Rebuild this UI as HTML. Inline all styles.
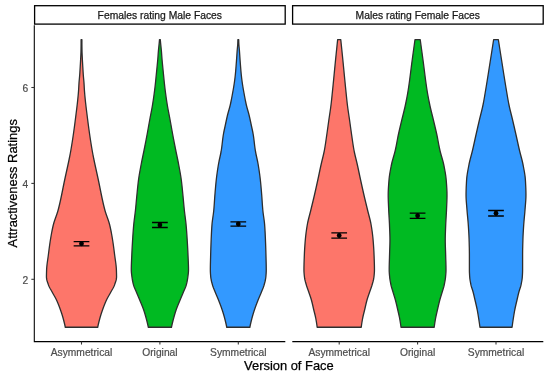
<!DOCTYPE html>
<html><head><meta charset="utf-8"><style>
html,body{margin:0;padding:0;background:#fff;}
svg{display:block;}
text{font-family:"Liberation Sans",Arial,sans-serif;}
.ax{font-size:10.25px;fill:#4D4D4D;stroke:#4D4D4D;stroke-width:0.2px;}
.st{font-size:10.32px;fill:#1A1A1A;stroke:#1A1A1A;stroke-width:0.25px;}
.ti{font-size:12.9px;fill:#000;stroke:#000;stroke-width:0.25px;}
</style></head><body>
<svg width="550" height="375" viewBox="0 0 550 375">
<rect width="550" height="375" fill="#fff"/>
<path d="M81.90,39.55 L81.90,40.00 L81.90,41.00 L81.90,42.00 L81.90,43.00 L81.90,44.00 L81.91,45.00 L81.92,46.00 L81.93,47.00 L81.95,48.00 L81.96,49.00 L81.98,50.00 L82.00,51.00 L82.02,52.00 L82.06,53.00 L82.10,54.00 L82.15,55.00 L82.20,56.00 L82.25,57.00 L82.30,58.00 L82.35,59.00 L82.40,60.00 L82.45,61.00 L82.51,62.00 L82.57,63.00 L82.62,64.00 L82.68,65.00 L82.74,66.00 L82.80,67.00 L82.86,68.00 L82.92,69.00 L82.98,70.00 L83.04,71.00 L83.10,72.00 L83.16,73.00 L83.23,74.00 L83.30,75.00 L83.38,76.00 L83.47,77.00 L83.56,78.00 L83.65,79.00 L83.75,80.00 L83.84,81.00 L83.93,82.00 L84.00,83.00 L84.06,84.00 L84.12,85.00 L84.17,86.00 L84.22,87.00 L84.28,88.00 L84.33,89.00 L84.40,90.00 L84.47,91.00 L84.55,92.00 L84.63,93.00 L84.71,94.00 L84.80,95.00 L84.89,96.00 L84.99,97.00 L85.09,98.00 L85.19,99.00 L85.29,100.00 L85.40,101.00 L85.50,102.00 L85.62,103.00 L85.73,104.00 L85.84,105.00 L85.96,106.00 L86.08,107.00 L86.20,108.00 L86.32,109.00 L86.44,110.00 L86.57,111.00 L86.69,112.00 L86.82,113.00 L86.94,114.00 L87.07,115.00 L87.19,116.00 L87.32,117.00 L87.45,118.00 L87.57,119.00 L87.70,120.00 L87.83,121.00 L87.95,122.00 L88.08,123.00 L88.21,124.00 L88.34,125.00 L88.48,126.00 L88.61,127.00 L88.74,128.00 L88.88,129.00 L89.02,130.00 L89.16,131.00 L89.30,132.00 L89.44,133.00 L89.58,134.00 L89.73,135.00 L89.87,136.00 L90.02,137.00 L90.17,138.00 L90.32,139.00 L90.47,140.00 L90.63,141.00 L90.78,142.00 L90.94,143.00 L91.10,144.00 L91.26,145.00 L91.43,146.00 L91.59,147.00 L91.76,148.00 L91.93,149.00 L92.10,150.00 L92.27,151.00 L92.45,152.00 L92.64,153.00 L92.82,154.00 L93.01,155.00 L93.21,156.00 L93.40,157.00 L93.60,158.00 L93.81,159.00 L94.01,160.00 L94.22,161.00 L94.43,162.00 L94.64,163.00 L94.86,164.00 L95.07,165.00 L95.29,166.00 L95.51,167.00 L95.73,168.00 L95.95,169.00 L96.17,170.00 L96.39,171.00 L96.61,172.00 L96.83,173.00 L97.05,174.00 L97.27,175.00 L97.49,176.00 L97.71,177.00 L97.92,178.00 L98.14,179.00 L98.35,180.00 L98.56,181.00 L98.77,182.00 L98.98,183.00 L99.18,184.00 L99.38,185.00 L99.59,186.00 L99.79,187.00 L99.99,188.00 L100.19,189.00 L100.39,190.00 L100.59,191.00 L100.79,192.00 L100.99,193.00 L101.20,194.00 L101.40,195.00 L101.61,196.00 L101.82,197.00 L102.03,198.00 L102.24,199.00 L102.46,200.00 L102.68,201.00 L102.90,202.00 L103.13,203.00 L103.36,204.00 L103.59,205.00 L103.84,206.00 L104.08,207.00 L104.33,208.00 L104.59,209.00 L104.85,210.00 L105.13,211.00 L105.43,212.00 L105.75,213.00 L106.08,214.00 L106.43,215.00 L106.78,216.00 L107.14,217.00 L107.50,218.00 L107.85,219.00 L108.20,220.00 L108.54,221.00 L108.86,222.00 L109.16,223.00 L109.44,224.00 L109.70,225.00 L109.94,226.00 L110.17,227.00 L110.39,228.00 L110.60,229.00 L110.81,230.00 L111.01,231.00 L111.21,232.00 L111.40,233.00 L111.58,234.00 L111.76,235.00 L111.94,236.00 L112.11,237.00 L112.27,238.00 L112.44,239.00 L112.60,240.00 L112.76,241.00 L112.91,242.00 L113.06,243.00 L113.21,244.00 L113.35,245.00 L113.49,246.00 L113.62,247.00 L113.76,248.00 L113.89,249.00 L114.02,250.00 L114.14,251.00 L114.27,252.00 L114.40,253.00 L114.52,254.00 L114.65,255.00 L114.78,256.00 L114.92,257.00 L115.06,258.00 L115.20,259.00 L115.35,260.00 L115.49,261.00 L115.63,262.00 L115.77,263.00 L115.89,264.00 L116.01,265.00 L116.12,266.00 L116.21,267.00 L116.29,268.00 L116.36,269.00 L116.40,270.00 L116.43,271.00 L116.46,272.00 L116.49,273.00 L116.52,274.00 L116.53,275.00 L116.55,276.00 L116.55,277.00 L116.50,278.00 L116.36,279.00 L116.14,280.00 L115.87,281.00 L115.55,282.00 L115.21,283.00 L114.85,284.00 L114.50,285.00 L114.11,286.00 L113.65,287.00 L113.13,288.00 L112.58,289.00 L112.00,290.00 L111.43,291.00 L110.87,292.00 L110.33,293.00 L109.77,294.00 L109.20,295.00 L108.62,296.00 L108.06,297.00 L107.51,298.00 L106.99,299.00 L106.50,300.00 L106.04,301.00 L105.60,302.00 L105.18,303.00 L104.76,304.00 L104.36,305.00 L103.97,306.00 L103.59,307.00 L103.22,308.00 L102.86,309.00 L102.50,310.00 L102.15,311.00 L101.81,312.00 L101.47,313.00 L101.15,314.00 L100.83,315.00 L100.53,316.00 L100.23,317.00 L99.95,318.00 L99.68,319.00 L99.41,320.00 L99.15,321.00 L98.89,322.00 L98.65,323.00 L98.41,324.00 L98.18,325.00 L97.96,326.00 L97.75,327.00 L97.70,327.25 L65.30,327.25 L65.25,327.00 L65.04,326.00 L64.82,325.00 L64.59,324.00 L64.35,323.00 L64.11,322.00 L63.85,321.00 L63.59,320.00 L63.32,319.00 L63.05,318.00 L62.77,317.00 L62.47,316.00 L62.17,315.00 L61.85,314.00 L61.53,313.00 L61.19,312.00 L60.85,311.00 L60.50,310.00 L60.14,309.00 L59.78,308.00 L59.41,307.00 L59.03,306.00 L58.64,305.00 L58.24,304.00 L57.82,303.00 L57.40,302.00 L56.96,301.00 L56.50,300.00 L56.01,299.00 L55.49,298.00 L54.94,297.00 L54.38,296.00 L53.80,295.00 L53.23,294.00 L52.67,293.00 L52.13,292.00 L51.57,291.00 L51.00,290.00 L50.42,289.00 L49.87,288.00 L49.35,287.00 L48.89,286.00 L48.50,285.00 L48.15,284.00 L47.79,283.00 L47.45,282.00 L47.13,281.00 L46.86,280.00 L46.64,279.00 L46.50,278.00 L46.45,277.00 L46.45,276.00 L46.47,275.00 L46.48,274.00 L46.51,273.00 L46.54,272.00 L46.57,271.00 L46.60,270.00 L46.64,269.00 L46.71,268.00 L46.79,267.00 L46.88,266.00 L46.99,265.00 L47.11,264.00 L47.23,263.00 L47.37,262.00 L47.51,261.00 L47.65,260.00 L47.80,259.00 L47.94,258.00 L48.08,257.00 L48.22,256.00 L48.35,255.00 L48.48,254.00 L48.60,253.00 L48.73,252.00 L48.86,251.00 L48.98,250.00 L49.11,249.00 L49.24,248.00 L49.38,247.00 L49.51,246.00 L49.65,245.00 L49.79,244.00 L49.94,243.00 L50.09,242.00 L50.24,241.00 L50.40,240.00 L50.56,239.00 L50.73,238.00 L50.89,237.00 L51.06,236.00 L51.24,235.00 L51.42,234.00 L51.60,233.00 L51.79,232.00 L51.99,231.00 L52.19,230.00 L52.40,229.00 L52.61,228.00 L52.83,227.00 L53.06,226.00 L53.30,225.00 L53.56,224.00 L53.84,223.00 L54.14,222.00 L54.46,221.00 L54.80,220.00 L55.15,219.00 L55.50,218.00 L55.86,217.00 L56.22,216.00 L56.57,215.00 L56.92,214.00 L57.25,213.00 L57.57,212.00 L57.87,211.00 L58.15,210.00 L58.41,209.00 L58.67,208.00 L58.92,207.00 L59.16,206.00 L59.41,205.00 L59.64,204.00 L59.87,203.00 L60.10,202.00 L60.32,201.00 L60.54,200.00 L60.76,199.00 L60.97,198.00 L61.18,197.00 L61.39,196.00 L61.60,195.00 L61.80,194.00 L62.01,193.00 L62.21,192.00 L62.41,191.00 L62.61,190.00 L62.81,189.00 L63.01,188.00 L63.21,187.00 L63.41,186.00 L63.62,185.00 L63.82,184.00 L64.02,183.00 L64.23,182.00 L64.44,181.00 L64.65,180.00 L64.86,179.00 L65.08,178.00 L65.29,177.00 L65.51,176.00 L65.73,175.00 L65.95,174.00 L66.17,173.00 L66.39,172.00 L66.61,171.00 L66.83,170.00 L67.05,169.00 L67.27,168.00 L67.49,167.00 L67.71,166.00 L67.93,165.00 L68.14,164.00 L68.36,163.00 L68.57,162.00 L68.78,161.00 L68.99,160.00 L69.19,159.00 L69.40,158.00 L69.60,157.00 L69.79,156.00 L69.99,155.00 L70.18,154.00 L70.36,153.00 L70.55,152.00 L70.73,151.00 L70.90,150.00 L71.07,149.00 L71.24,148.00 L71.41,147.00 L71.57,146.00 L71.74,145.00 L71.90,144.00 L72.06,143.00 L72.22,142.00 L72.37,141.00 L72.53,140.00 L72.68,139.00 L72.83,138.00 L72.98,137.00 L73.13,136.00 L73.27,135.00 L73.42,134.00 L73.56,133.00 L73.70,132.00 L73.84,131.00 L73.98,130.00 L74.12,129.00 L74.26,128.00 L74.39,127.00 L74.52,126.00 L74.66,125.00 L74.79,124.00 L74.92,123.00 L75.05,122.00 L75.17,121.00 L75.30,120.00 L75.43,119.00 L75.55,118.00 L75.68,117.00 L75.81,116.00 L75.93,115.00 L76.06,114.00 L76.18,113.00 L76.31,112.00 L76.43,111.00 L76.56,110.00 L76.68,109.00 L76.80,108.00 L76.92,107.00 L77.04,106.00 L77.16,105.00 L77.27,104.00 L77.38,103.00 L77.50,102.00 L77.60,101.00 L77.71,100.00 L77.81,99.00 L77.91,98.00 L78.01,97.00 L78.11,96.00 L78.20,95.00 L78.29,94.00 L78.37,93.00 L78.45,92.00 L78.53,91.00 L78.60,90.00 L78.67,89.00 L78.72,88.00 L78.78,87.00 L78.83,86.00 L78.88,85.00 L78.94,84.00 L79.00,83.00 L79.07,82.00 L79.16,81.00 L79.25,80.00 L79.35,79.00 L79.44,78.00 L79.53,77.00 L79.62,76.00 L79.70,75.00 L79.77,74.00 L79.84,73.00 L79.90,72.00 L79.96,71.00 L80.02,70.00 L80.08,69.00 L80.14,68.00 L80.20,67.00 L80.26,66.00 L80.32,65.00 L80.38,64.00 L80.43,63.00 L80.49,62.00 L80.55,61.00 L80.60,60.00 L80.65,59.00 L80.70,58.00 L80.75,57.00 L80.80,56.00 L80.85,55.00 L80.90,54.00 L80.94,53.00 L80.98,52.00 L81.00,51.00 L81.02,50.00 L81.04,49.00 L81.05,48.00 L81.07,47.00 L81.08,46.00 L81.09,45.00 L81.10,44.00 L81.10,43.00 L81.10,42.00 L81.10,41.00 L81.10,40.00 L81.10,39.55Z" fill="#FD766A" stroke="#2E2E2E" stroke-width="1.3" stroke-linejoin="round"/>
<path d="M160.30,39.55 L160.34,40.00 L160.42,41.00 L160.51,42.00 L160.60,43.00 L160.70,44.00 L160.80,45.00 L160.90,46.00 L161.01,47.00 L161.11,48.00 L161.21,49.00 L161.31,50.00 L161.40,51.00 L161.48,52.00 L161.56,53.00 L161.63,54.00 L161.70,55.00 L161.77,56.00 L161.84,57.00 L161.92,58.00 L162.00,59.00 L162.09,60.00 L162.17,61.00 L162.27,62.00 L162.36,63.00 L162.46,64.00 L162.56,65.00 L162.65,66.00 L162.75,67.00 L162.85,68.00 L162.95,69.00 L163.05,70.00 L163.15,71.00 L163.25,72.00 L163.35,73.00 L163.45,74.00 L163.55,75.00 L163.65,76.00 L163.75,77.00 L163.85,78.00 L163.94,79.00 L164.04,80.00 L164.14,81.00 L164.24,82.00 L164.35,83.00 L164.46,84.00 L164.57,85.00 L164.68,86.00 L164.79,87.00 L164.91,88.00 L165.03,89.00 L165.15,90.00 L165.28,91.00 L165.41,92.00 L165.54,93.00 L165.67,94.00 L165.81,95.00 L165.94,96.00 L166.08,97.00 L166.23,98.00 L166.37,99.00 L166.52,100.00 L166.67,101.00 L166.83,102.00 L166.98,103.00 L167.14,104.00 L167.30,105.00 L167.47,106.00 L167.64,107.00 L167.81,108.00 L168.00,109.00 L168.18,110.00 L168.37,111.00 L168.56,112.00 L168.76,113.00 L168.95,114.00 L169.15,115.00 L169.34,116.00 L169.53,117.00 L169.73,118.00 L169.91,119.00 L170.10,120.00 L170.28,121.00 L170.46,122.00 L170.64,123.00 L170.82,124.00 L171.00,125.00 L171.18,126.00 L171.36,127.00 L171.53,128.00 L171.71,129.00 L171.89,130.00 L172.07,131.00 L172.25,132.00 L172.43,133.00 L172.61,134.00 L172.80,135.00 L172.99,136.00 L173.18,137.00 L173.36,138.00 L173.55,139.00 L173.75,140.00 L173.94,141.00 L174.13,142.00 L174.32,143.00 L174.52,144.00 L174.71,145.00 L174.91,146.00 L175.11,147.00 L175.30,148.00 L175.50,149.00 L175.70,150.00 L175.90,151.00 L176.10,152.00 L176.31,153.00 L176.52,154.00 L176.73,155.00 L176.94,156.00 L177.14,157.00 L177.35,158.00 L177.56,159.00 L177.77,160.00 L177.97,161.00 L178.17,162.00 L178.37,163.00 L178.56,164.00 L178.75,165.00 L178.94,166.00 L179.12,167.00 L179.31,168.00 L179.49,169.00 L179.68,170.00 L179.86,171.00 L180.04,172.00 L180.21,173.00 L180.39,174.00 L180.55,175.00 L180.72,176.00 L180.87,177.00 L181.02,178.00 L181.16,179.00 L181.30,180.00 L181.43,181.00 L181.55,182.00 L181.67,183.00 L181.78,184.00 L181.89,185.00 L182.00,186.00 L182.11,187.00 L182.21,188.00 L182.31,189.00 L182.41,190.00 L182.51,191.00 L182.60,192.00 L182.70,193.00 L182.80,194.00 L182.90,195.00 L183.00,196.00 L183.10,197.00 L183.19,198.00 L183.28,199.00 L183.38,200.00 L183.47,201.00 L183.56,202.00 L183.65,203.00 L183.74,204.00 L183.83,205.00 L183.93,206.00 L184.02,207.00 L184.12,208.00 L184.22,209.00 L184.32,210.00 L184.43,211.00 L184.55,212.00 L184.67,213.00 L184.79,214.00 L184.92,215.00 L185.05,216.00 L185.18,217.00 L185.30,218.00 L185.43,219.00 L185.56,220.00 L185.68,221.00 L185.79,222.00 L185.90,223.00 L186.01,224.00 L186.10,225.00 L186.19,226.00 L186.28,227.00 L186.36,228.00 L186.44,229.00 L186.52,230.00 L186.59,231.00 L186.67,232.00 L186.74,233.00 L186.81,234.00 L186.88,235.00 L186.95,236.00 L187.01,237.00 L187.07,238.00 L187.14,239.00 L187.20,240.00 L187.26,241.00 L187.32,242.00 L187.38,243.00 L187.44,244.00 L187.50,245.00 L187.56,246.00 L187.61,247.00 L187.67,248.00 L187.72,249.00 L187.77,250.00 L187.82,251.00 L187.87,252.00 L187.91,253.00 L187.96,254.00 L188.00,255.00 L188.04,256.00 L188.09,257.00 L188.13,258.00 L188.18,259.00 L188.22,260.00 L188.26,261.00 L188.31,262.00 L188.35,263.00 L188.38,264.00 L188.42,265.00 L188.44,266.00 L188.47,267.00 L188.49,268.00 L188.50,269.00 L188.50,270.00 L188.48,271.00 L188.42,272.00 L188.34,273.00 L188.23,274.00 L188.11,275.00 L187.98,276.00 L187.85,277.00 L187.71,278.00 L187.56,279.00 L187.39,280.00 L187.19,281.00 L186.98,282.00 L186.76,283.00 L186.51,284.00 L186.25,285.00 L185.95,286.00 L185.59,287.00 L185.19,288.00 L184.76,289.00 L184.31,290.00 L183.87,291.00 L183.45,292.00 L183.04,293.00 L182.62,294.00 L182.20,295.00 L181.78,296.00 L181.35,297.00 L180.93,298.00 L180.51,299.00 L180.10,300.00 L179.69,301.00 L179.27,302.00 L178.85,303.00 L178.43,304.00 L178.01,305.00 L177.61,306.00 L177.21,307.00 L176.82,308.00 L176.45,309.00 L176.10,310.00 L175.77,311.00 L175.44,312.00 L175.13,313.00 L174.83,314.00 L174.54,315.00 L174.25,316.00 L173.97,317.00 L173.70,318.00 L173.43,319.00 L173.17,320.00 L172.91,321.00 L172.66,322.00 L172.42,323.00 L172.18,324.00 L171.95,325.00 L171.72,326.00 L171.50,327.00 L171.45,327.25 L148.35,327.25 L148.30,327.00 L148.08,326.00 L147.85,325.00 L147.62,324.00 L147.38,323.00 L147.14,322.00 L146.89,321.00 L146.63,320.00 L146.37,319.00 L146.10,318.00 L145.83,317.00 L145.55,316.00 L145.26,315.00 L144.97,314.00 L144.67,313.00 L144.36,312.00 L144.03,311.00 L143.70,310.00 L143.35,309.00 L142.98,308.00 L142.59,307.00 L142.19,306.00 L141.79,305.00 L141.37,304.00 L140.95,303.00 L140.53,302.00 L140.11,301.00 L139.70,300.00 L139.29,299.00 L138.87,298.00 L138.45,297.00 L138.02,296.00 L137.60,295.00 L137.18,294.00 L136.76,293.00 L136.35,292.00 L135.93,291.00 L135.49,290.00 L135.04,289.00 L134.61,288.00 L134.21,287.00 L133.85,286.00 L133.55,285.00 L133.29,284.00 L133.04,283.00 L132.82,282.00 L132.61,281.00 L132.41,280.00 L132.24,279.00 L132.09,278.00 L131.95,277.00 L131.82,276.00 L131.69,275.00 L131.57,274.00 L131.46,273.00 L131.38,272.00 L131.32,271.00 L131.30,270.00 L131.30,269.00 L131.31,268.00 L131.33,267.00 L131.36,266.00 L131.38,265.00 L131.42,264.00 L131.45,263.00 L131.49,262.00 L131.54,261.00 L131.58,260.00 L131.62,259.00 L131.67,258.00 L131.71,257.00 L131.76,256.00 L131.80,255.00 L131.84,254.00 L131.89,253.00 L131.93,252.00 L131.98,251.00 L132.03,250.00 L132.08,249.00 L132.13,248.00 L132.19,247.00 L132.24,246.00 L132.30,245.00 L132.36,244.00 L132.42,243.00 L132.48,242.00 L132.54,241.00 L132.60,240.00 L132.66,239.00 L132.73,238.00 L132.79,237.00 L132.85,236.00 L132.92,235.00 L132.99,234.00 L133.06,233.00 L133.13,232.00 L133.21,231.00 L133.28,230.00 L133.36,229.00 L133.44,228.00 L133.52,227.00 L133.61,226.00 L133.70,225.00 L133.79,224.00 L133.90,223.00 L134.01,222.00 L134.12,221.00 L134.24,220.00 L134.37,219.00 L134.50,218.00 L134.62,217.00 L134.75,216.00 L134.88,215.00 L135.01,214.00 L135.13,213.00 L135.25,212.00 L135.37,211.00 L135.48,210.00 L135.58,209.00 L135.68,208.00 L135.78,207.00 L135.87,206.00 L135.97,205.00 L136.06,204.00 L136.15,203.00 L136.24,202.00 L136.33,201.00 L136.42,200.00 L136.52,199.00 L136.61,198.00 L136.70,197.00 L136.80,196.00 L136.90,195.00 L137.00,194.00 L137.10,193.00 L137.20,192.00 L137.29,191.00 L137.39,190.00 L137.49,189.00 L137.59,188.00 L137.69,187.00 L137.80,186.00 L137.91,185.00 L138.02,184.00 L138.13,183.00 L138.25,182.00 L138.37,181.00 L138.50,180.00 L138.64,179.00 L138.78,178.00 L138.93,177.00 L139.08,176.00 L139.25,175.00 L139.41,174.00 L139.59,173.00 L139.76,172.00 L139.94,171.00 L140.12,170.00 L140.31,169.00 L140.49,168.00 L140.68,167.00 L140.86,166.00 L141.05,165.00 L141.24,164.00 L141.43,163.00 L141.63,162.00 L141.83,161.00 L142.03,160.00 L142.24,159.00 L142.45,158.00 L142.66,157.00 L142.86,156.00 L143.07,155.00 L143.28,154.00 L143.49,153.00 L143.70,152.00 L143.90,151.00 L144.10,150.00 L144.30,149.00 L144.50,148.00 L144.69,147.00 L144.89,146.00 L145.09,145.00 L145.28,144.00 L145.48,143.00 L145.67,142.00 L145.86,141.00 L146.05,140.00 L146.25,139.00 L146.44,138.00 L146.62,137.00 L146.81,136.00 L147.00,135.00 L147.19,134.00 L147.37,133.00 L147.55,132.00 L147.73,131.00 L147.91,130.00 L148.09,129.00 L148.27,128.00 L148.44,127.00 L148.62,126.00 L148.80,125.00 L148.98,124.00 L149.16,123.00 L149.34,122.00 L149.52,121.00 L149.70,120.00 L149.89,119.00 L150.07,118.00 L150.27,117.00 L150.46,116.00 L150.65,115.00 L150.85,114.00 L151.04,113.00 L151.24,112.00 L151.43,111.00 L151.62,110.00 L151.80,109.00 L151.99,108.00 L152.16,107.00 L152.33,106.00 L152.50,105.00 L152.66,104.00 L152.82,103.00 L152.97,102.00 L153.13,101.00 L153.28,100.00 L153.43,99.00 L153.57,98.00 L153.72,97.00 L153.86,96.00 L153.99,95.00 L154.13,94.00 L154.26,93.00 L154.39,92.00 L154.52,91.00 L154.65,90.00 L154.77,89.00 L154.89,88.00 L155.01,87.00 L155.12,86.00 L155.23,85.00 L155.34,84.00 L155.45,83.00 L155.56,82.00 L155.66,81.00 L155.76,80.00 L155.86,79.00 L155.95,78.00 L156.05,77.00 L156.15,76.00 L156.25,75.00 L156.35,74.00 L156.45,73.00 L156.55,72.00 L156.65,71.00 L156.75,70.00 L156.85,69.00 L156.95,68.00 L157.05,67.00 L157.15,66.00 L157.24,65.00 L157.34,64.00 L157.44,63.00 L157.53,62.00 L157.63,61.00 L157.71,60.00 L157.80,59.00 L157.88,58.00 L157.96,57.00 L158.03,56.00 L158.10,55.00 L158.17,54.00 L158.24,53.00 L158.32,52.00 L158.40,51.00 L158.49,50.00 L158.59,49.00 L158.69,48.00 L158.79,47.00 L158.90,46.00 L159.00,45.00 L159.10,44.00 L159.20,43.00 L159.29,42.00 L159.38,41.00 L159.46,40.00 L159.50,39.55Z" fill="#00BA22" stroke="#2E2E2E" stroke-width="1.3" stroke-linejoin="round"/>
<path d="M238.70,39.55 L238.71,40.00 L238.73,41.00 L238.76,42.00 L238.80,43.00 L238.85,44.00 L238.92,45.00 L239.00,46.00 L239.09,47.00 L239.19,48.00 L239.28,49.00 L239.37,50.00 L239.45,51.00 L239.52,52.00 L239.59,53.00 L239.66,54.00 L239.73,55.00 L239.79,56.00 L239.86,57.00 L239.93,58.00 L240.00,59.00 L240.07,60.00 L240.14,61.00 L240.22,62.00 L240.29,63.00 L240.37,64.00 L240.44,65.00 L240.52,66.00 L240.60,67.00 L240.68,68.00 L240.76,69.00 L240.84,70.00 L240.93,71.00 L241.01,72.00 L241.11,73.00 L241.20,74.00 L241.30,75.00 L241.41,76.00 L241.52,77.00 L241.64,78.00 L241.76,79.00 L241.89,80.00 L242.02,81.00 L242.16,82.00 L242.30,83.00 L242.45,84.00 L242.60,85.00 L242.76,86.00 L242.92,87.00 L243.09,88.00 L243.26,89.00 L243.44,90.00 L243.62,91.00 L243.80,92.00 L243.98,93.00 L244.17,94.00 L244.35,95.00 L244.53,96.00 L244.72,97.00 L244.91,98.00 L245.10,99.00 L245.29,100.00 L245.49,101.00 L245.70,102.00 L245.91,103.00 L246.12,104.00 L246.35,105.00 L246.59,106.00 L246.85,107.00 L247.12,108.00 L247.40,109.00 L247.68,110.00 L247.97,111.00 L248.26,112.00 L248.53,113.00 L248.80,114.00 L249.05,115.00 L249.29,116.00 L249.52,117.00 L249.75,118.00 L249.97,119.00 L250.19,120.00 L250.40,121.00 L250.62,122.00 L250.83,123.00 L251.04,124.00 L251.25,125.00 L251.46,126.00 L251.68,127.00 L251.90,128.00 L252.12,129.00 L252.34,130.00 L252.55,131.00 L252.75,132.00 L252.95,133.00 L253.13,134.00 L253.30,135.00 L253.46,136.00 L253.60,137.00 L253.74,138.00 L253.87,139.00 L253.99,140.00 L254.11,141.00 L254.22,142.00 L254.34,143.00 L254.46,144.00 L254.57,145.00 L254.70,146.00 L254.82,147.00 L254.96,148.00 L255.10,149.00 L255.25,150.00 L255.42,151.00 L255.59,152.00 L255.79,153.00 L255.99,154.00 L256.19,155.00 L256.41,156.00 L256.63,157.00 L256.85,158.00 L257.07,159.00 L257.28,160.00 L257.49,161.00 L257.70,162.00 L257.89,163.00 L258.08,164.00 L258.25,165.00 L258.41,166.00 L258.57,167.00 L258.73,168.00 L258.89,169.00 L259.04,170.00 L259.19,171.00 L259.33,172.00 L259.47,173.00 L259.61,174.00 L259.75,175.00 L259.87,176.00 L260.00,177.00 L260.12,178.00 L260.24,179.00 L260.35,180.00 L260.46,181.00 L260.56,182.00 L260.66,183.00 L260.76,184.00 L260.85,185.00 L260.95,186.00 L261.03,187.00 L261.12,188.00 L261.21,189.00 L261.29,190.00 L261.38,191.00 L261.46,192.00 L261.54,193.00 L261.62,194.00 L261.70,195.00 L261.78,196.00 L261.85,197.00 L261.93,198.00 L261.99,199.00 L262.06,200.00 L262.13,201.00 L262.20,202.00 L262.26,203.00 L262.33,204.00 L262.40,205.00 L262.47,206.00 L262.55,207.00 L262.63,208.00 L262.71,209.00 L262.80,210.00 L262.90,211.00 L263.01,212.00 L263.13,213.00 L263.26,214.00 L263.40,215.00 L263.54,216.00 L263.69,217.00 L263.83,218.00 L263.97,219.00 L264.11,220.00 L264.24,221.00 L264.36,222.00 L264.47,223.00 L264.57,224.00 L264.65,225.00 L264.72,226.00 L264.79,227.00 L264.86,228.00 L264.92,229.00 L264.98,230.00 L265.03,231.00 L265.09,232.00 L265.14,233.00 L265.19,234.00 L265.23,235.00 L265.28,236.00 L265.32,237.00 L265.37,238.00 L265.41,239.00 L265.45,240.00 L265.49,241.00 L265.53,242.00 L265.57,243.00 L265.61,244.00 L265.64,245.00 L265.68,246.00 L265.71,247.00 L265.75,248.00 L265.78,249.00 L265.81,250.00 L265.84,251.00 L265.87,252.00 L265.90,253.00 L265.92,254.00 L265.95,255.00 L265.98,256.00 L266.00,257.00 L266.03,258.00 L266.06,259.00 L266.08,260.00 L266.11,261.00 L266.13,262.00 L266.16,263.00 L266.18,264.00 L266.20,265.00 L266.22,266.00 L266.23,267.00 L266.24,268.00 L266.25,269.00 L266.25,270.00 L266.24,271.00 L266.21,272.00 L266.16,273.00 L266.10,274.00 L266.02,275.00 L265.94,276.00 L265.85,277.00 L265.74,278.00 L265.58,279.00 L265.39,280.00 L265.16,281.00 L264.92,282.00 L264.65,283.00 L264.38,284.00 L264.10,285.00 L263.80,286.00 L263.45,287.00 L263.08,288.00 L262.68,289.00 L262.27,290.00 L261.85,291.00 L261.45,292.00 L261.05,293.00 L260.63,294.00 L260.20,295.00 L259.77,296.00 L259.34,297.00 L258.92,298.00 L258.50,299.00 L258.10,300.00 L257.71,301.00 L257.32,302.00 L256.93,303.00 L256.55,304.00 L256.17,305.00 L255.80,306.00 L255.44,307.00 L255.08,308.00 L254.74,309.00 L254.40,310.00 L254.07,311.00 L253.75,312.00 L253.44,313.00 L253.13,314.00 L252.84,315.00 L252.55,316.00 L252.27,317.00 L252.00,318.00 L251.74,319.00 L251.49,320.00 L251.24,321.00 L251.00,322.00 L250.76,323.00 L250.53,324.00 L250.31,325.00 L250.10,326.00 L249.90,327.00 L249.85,327.25 L226.75,327.25 L226.70,327.00 L226.50,326.00 L226.29,325.00 L226.07,324.00 L225.84,323.00 L225.60,322.00 L225.36,321.00 L225.11,320.00 L224.86,319.00 L224.60,318.00 L224.33,317.00 L224.05,316.00 L223.76,315.00 L223.47,314.00 L223.16,313.00 L222.85,312.00 L222.53,311.00 L222.20,310.00 L221.86,309.00 L221.52,308.00 L221.16,307.00 L220.80,306.00 L220.43,305.00 L220.05,304.00 L219.67,303.00 L219.28,302.00 L218.89,301.00 L218.50,300.00 L218.10,299.00 L217.68,298.00 L217.26,297.00 L216.83,296.00 L216.40,295.00 L215.97,294.00 L215.55,293.00 L215.15,292.00 L214.75,291.00 L214.33,290.00 L213.92,289.00 L213.52,288.00 L213.15,287.00 L212.80,286.00 L212.50,285.00 L212.22,284.00 L211.95,283.00 L211.68,282.00 L211.44,281.00 L211.21,280.00 L211.02,279.00 L210.86,278.00 L210.75,277.00 L210.66,276.00 L210.58,275.00 L210.50,274.00 L210.44,273.00 L210.39,272.00 L210.36,271.00 L210.35,270.00 L210.35,269.00 L210.36,268.00 L210.37,267.00 L210.38,266.00 L210.40,265.00 L210.42,264.00 L210.44,263.00 L210.47,262.00 L210.49,261.00 L210.52,260.00 L210.54,259.00 L210.57,258.00 L210.60,257.00 L210.62,256.00 L210.65,255.00 L210.68,254.00 L210.70,253.00 L210.73,252.00 L210.76,251.00 L210.79,250.00 L210.82,249.00 L210.85,248.00 L210.89,247.00 L210.92,246.00 L210.96,245.00 L210.99,244.00 L211.03,243.00 L211.07,242.00 L211.11,241.00 L211.15,240.00 L211.19,239.00 L211.23,238.00 L211.28,237.00 L211.32,236.00 L211.37,235.00 L211.41,234.00 L211.46,233.00 L211.51,232.00 L211.57,231.00 L211.62,230.00 L211.68,229.00 L211.74,228.00 L211.81,227.00 L211.88,226.00 L211.95,225.00 L212.03,224.00 L212.13,223.00 L212.24,222.00 L212.36,221.00 L212.49,220.00 L212.63,219.00 L212.77,218.00 L212.91,217.00 L213.06,216.00 L213.20,215.00 L213.34,214.00 L213.47,213.00 L213.59,212.00 L213.70,211.00 L213.80,210.00 L213.89,209.00 L213.97,208.00 L214.05,207.00 L214.13,206.00 L214.20,205.00 L214.27,204.00 L214.34,203.00 L214.40,202.00 L214.47,201.00 L214.54,200.00 L214.61,199.00 L214.67,198.00 L214.75,197.00 L214.82,196.00 L214.90,195.00 L214.98,194.00 L215.06,193.00 L215.14,192.00 L215.22,191.00 L215.31,190.00 L215.39,189.00 L215.48,188.00 L215.57,187.00 L215.65,186.00 L215.75,185.00 L215.84,184.00 L215.94,183.00 L216.04,182.00 L216.14,181.00 L216.25,180.00 L216.36,179.00 L216.48,178.00 L216.60,177.00 L216.73,176.00 L216.85,175.00 L216.99,174.00 L217.13,173.00 L217.27,172.00 L217.41,171.00 L217.56,170.00 L217.71,169.00 L217.87,168.00 L218.03,167.00 L218.19,166.00 L218.35,165.00 L218.52,164.00 L218.71,163.00 L218.90,162.00 L219.11,161.00 L219.32,160.00 L219.53,159.00 L219.75,158.00 L219.97,157.00 L220.19,156.00 L220.41,155.00 L220.61,154.00 L220.81,153.00 L221.01,152.00 L221.18,151.00 L221.35,150.00 L221.50,149.00 L221.64,148.00 L221.78,147.00 L221.90,146.00 L222.03,145.00 L222.14,144.00 L222.26,143.00 L222.38,142.00 L222.49,141.00 L222.61,140.00 L222.73,139.00 L222.86,138.00 L223.00,137.00 L223.14,136.00 L223.30,135.00 L223.47,134.00 L223.65,133.00 L223.85,132.00 L224.05,131.00 L224.26,130.00 L224.48,129.00 L224.70,128.00 L224.92,127.00 L225.14,126.00 L225.35,125.00 L225.56,124.00 L225.77,123.00 L225.98,122.00 L226.20,121.00 L226.41,120.00 L226.63,119.00 L226.85,118.00 L227.08,117.00 L227.31,116.00 L227.55,115.00 L227.80,114.00 L228.07,113.00 L228.34,112.00 L228.63,111.00 L228.92,110.00 L229.20,109.00 L229.48,108.00 L229.75,107.00 L230.01,106.00 L230.25,105.00 L230.48,104.00 L230.69,103.00 L230.90,102.00 L231.11,101.00 L231.31,100.00 L231.50,99.00 L231.69,98.00 L231.88,97.00 L232.07,96.00 L232.25,95.00 L232.43,94.00 L232.62,93.00 L232.80,92.00 L232.98,91.00 L233.16,90.00 L233.34,89.00 L233.51,88.00 L233.68,87.00 L233.84,86.00 L234.00,85.00 L234.15,84.00 L234.30,83.00 L234.44,82.00 L234.58,81.00 L234.71,80.00 L234.84,79.00 L234.96,78.00 L235.08,77.00 L235.19,76.00 L235.30,75.00 L235.40,74.00 L235.49,73.00 L235.59,72.00 L235.67,71.00 L235.76,70.00 L235.84,69.00 L235.92,68.00 L236.00,67.00 L236.08,66.00 L236.16,65.00 L236.23,64.00 L236.31,63.00 L236.38,62.00 L236.46,61.00 L236.53,60.00 L236.60,59.00 L236.67,58.00 L236.74,57.00 L236.81,56.00 L236.87,55.00 L236.94,54.00 L237.01,53.00 L237.08,52.00 L237.15,51.00 L237.23,50.00 L237.32,49.00 L237.41,48.00 L237.51,47.00 L237.60,46.00 L237.68,45.00 L237.75,44.00 L237.80,43.00 L237.84,42.00 L237.87,41.00 L237.89,40.00 L237.90,39.55Z" fill="#3399FF" stroke="#2E2E2E" stroke-width="1.3" stroke-linejoin="round"/>
<path d="M340.75,39.55 L340.80,40.00 L340.90,41.00 L341.01,42.00 L341.11,43.00 L341.21,44.00 L341.32,45.00 L341.42,46.00 L341.52,47.00 L341.63,48.00 L341.73,49.00 L341.83,50.00 L341.94,51.00 L342.04,52.00 L342.14,53.00 L342.24,54.00 L342.34,55.00 L342.45,56.00 L342.55,57.00 L342.65,58.00 L342.75,59.00 L342.85,60.00 L342.95,61.00 L343.05,62.00 L343.15,63.00 L343.25,64.00 L343.35,65.00 L343.44,66.00 L343.54,67.00 L343.64,68.00 L343.74,69.00 L343.83,70.00 L343.93,71.00 L344.03,72.00 L344.12,73.00 L344.22,74.00 L344.32,75.00 L344.41,76.00 L344.51,77.00 L344.61,78.00 L344.70,79.00 L344.80,80.00 L344.90,81.00 L345.00,82.00 L345.10,83.00 L345.20,84.00 L345.29,85.00 L345.39,86.00 L345.49,87.00 L345.60,88.00 L345.70,89.00 L345.80,90.00 L345.90,91.00 L346.00,92.00 L346.11,93.00 L346.21,94.00 L346.31,95.00 L346.41,96.00 L346.51,97.00 L346.62,98.00 L346.72,99.00 L346.83,100.00 L346.94,101.00 L347.05,102.00 L347.16,103.00 L347.28,104.00 L347.40,105.00 L347.53,106.00 L347.66,107.00 L347.79,108.00 L347.93,109.00 L348.07,110.00 L348.22,111.00 L348.36,112.00 L348.51,113.00 L348.66,114.00 L348.81,115.00 L348.96,116.00 L349.11,117.00 L349.26,118.00 L349.41,119.00 L349.55,120.00 L349.69,121.00 L349.83,122.00 L349.97,123.00 L350.11,124.00 L350.25,125.00 L350.38,126.00 L350.52,127.00 L350.66,128.00 L350.80,129.00 L350.94,130.00 L351.08,131.00 L351.22,132.00 L351.36,133.00 L351.50,134.00 L351.65,135.00 L351.80,136.00 L351.94,137.00 L352.08,138.00 L352.22,139.00 L352.37,140.00 L352.51,141.00 L352.66,142.00 L352.80,143.00 L352.95,144.00 L353.11,145.00 L353.27,146.00 L353.43,147.00 L353.60,148.00 L353.77,149.00 L353.95,150.00 L354.14,151.00 L354.34,152.00 L354.56,153.00 L354.78,154.00 L355.01,155.00 L355.24,156.00 L355.48,157.00 L355.73,158.00 L355.97,159.00 L356.22,160.00 L356.46,161.00 L356.70,162.00 L356.94,163.00 L357.17,164.00 L357.40,165.00 L357.62,166.00 L357.84,167.00 L358.05,168.00 L358.27,169.00 L358.48,170.00 L358.69,171.00 L358.90,172.00 L359.11,173.00 L359.32,174.00 L359.53,175.00 L359.74,176.00 L359.95,177.00 L360.17,178.00 L360.38,179.00 L360.60,180.00 L360.82,181.00 L361.04,182.00 L361.26,183.00 L361.48,184.00 L361.70,185.00 L361.92,186.00 L362.14,187.00 L362.36,188.00 L362.59,189.00 L362.81,190.00 L363.04,191.00 L363.26,192.00 L363.49,193.00 L363.72,194.00 L363.95,195.00 L364.18,196.00 L364.42,197.00 L364.65,198.00 L364.89,199.00 L365.13,200.00 L365.37,201.00 L365.61,202.00 L365.85,203.00 L366.10,204.00 L366.34,205.00 L366.58,206.00 L366.83,207.00 L367.07,208.00 L367.31,209.00 L367.55,210.00 L367.79,211.00 L368.05,212.00 L368.30,213.00 L368.57,214.00 L368.83,215.00 L369.09,216.00 L369.35,217.00 L369.61,218.00 L369.86,219.00 L370.11,220.00 L370.34,221.00 L370.57,222.00 L370.78,223.00 L370.97,224.00 L371.15,225.00 L371.32,226.00 L371.48,227.00 L371.64,228.00 L371.79,229.00 L371.94,230.00 L372.08,231.00 L372.22,232.00 L372.35,233.00 L372.47,234.00 L372.59,235.00 L372.71,236.00 L372.81,237.00 L372.92,238.00 L373.01,239.00 L373.10,240.00 L373.18,241.00 L373.27,242.00 L373.34,243.00 L373.42,244.00 L373.49,245.00 L373.56,246.00 L373.63,247.00 L373.70,248.00 L373.76,249.00 L373.81,250.00 L373.87,251.00 L373.92,252.00 L373.97,253.00 L374.01,254.00 L374.05,255.00 L374.09,256.00 L374.13,257.00 L374.16,258.00 L374.20,259.00 L374.24,260.00 L374.27,261.00 L374.30,262.00 L374.34,263.00 L374.36,264.00 L374.39,265.00 L374.41,266.00 L374.43,267.00 L374.44,268.00 L374.45,269.00 L374.45,270.00 L374.44,271.00 L374.40,272.00 L374.33,273.00 L374.25,274.00 L374.16,275.00 L374.06,276.00 L373.95,277.00 L373.82,278.00 L373.64,279.00 L373.42,280.00 L373.17,281.00 L372.91,282.00 L372.62,283.00 L372.34,284.00 L372.05,285.00 L371.75,286.00 L371.42,287.00 L371.08,288.00 L370.72,289.00 L370.35,290.00 L370.00,291.00 L369.65,292.00 L369.31,293.00 L368.96,294.00 L368.61,295.00 L368.27,296.00 L367.93,297.00 L367.60,298.00 L367.29,299.00 L367.00,300.00 L366.73,301.00 L366.47,302.00 L366.22,303.00 L365.98,304.00 L365.75,305.00 L365.52,306.00 L365.29,307.00 L365.07,308.00 L364.84,309.00 L364.60,310.00 L364.36,311.00 L364.11,312.00 L363.85,313.00 L363.60,314.00 L363.36,315.00 L363.12,316.00 L362.90,317.00 L362.70,318.00 L362.51,319.00 L362.33,320.00 L362.16,321.00 L361.99,322.00 L361.83,323.00 L361.68,324.00 L361.53,325.00 L361.40,326.00 L361.28,327.00 L361.25,327.25 L317.15,327.25 L317.12,327.00 L317.00,326.00 L316.87,325.00 L316.72,324.00 L316.57,323.00 L316.41,322.00 L316.24,321.00 L316.07,320.00 L315.89,319.00 L315.70,318.00 L315.50,317.00 L315.28,316.00 L315.04,315.00 L314.80,314.00 L314.55,313.00 L314.29,312.00 L314.04,311.00 L313.80,310.00 L313.56,309.00 L313.33,308.00 L313.11,307.00 L312.88,306.00 L312.65,305.00 L312.42,304.00 L312.18,303.00 L311.93,302.00 L311.67,301.00 L311.40,300.00 L311.11,299.00 L310.80,298.00 L310.47,297.00 L310.13,296.00 L309.79,295.00 L309.44,294.00 L309.09,293.00 L308.75,292.00 L308.40,291.00 L308.05,290.00 L307.68,289.00 L307.32,288.00 L306.98,287.00 L306.65,286.00 L306.35,285.00 L306.06,284.00 L305.78,283.00 L305.49,282.00 L305.23,281.00 L304.98,280.00 L304.76,279.00 L304.58,278.00 L304.45,277.00 L304.34,276.00 L304.24,275.00 L304.15,274.00 L304.07,273.00 L304.00,272.00 L303.96,271.00 L303.95,270.00 L303.95,269.00 L303.96,268.00 L303.97,267.00 L303.99,266.00 L304.01,265.00 L304.04,264.00 L304.06,263.00 L304.10,262.00 L304.13,261.00 L304.16,260.00 L304.20,259.00 L304.24,258.00 L304.27,257.00 L304.31,256.00 L304.35,255.00 L304.39,254.00 L304.43,253.00 L304.48,252.00 L304.53,251.00 L304.59,250.00 L304.64,249.00 L304.70,248.00 L304.77,247.00 L304.84,246.00 L304.91,245.00 L304.98,244.00 L305.06,243.00 L305.13,242.00 L305.22,241.00 L305.30,240.00 L305.39,239.00 L305.48,238.00 L305.59,237.00 L305.69,236.00 L305.81,235.00 L305.93,234.00 L306.05,233.00 L306.18,232.00 L306.32,231.00 L306.46,230.00 L306.61,229.00 L306.76,228.00 L306.92,227.00 L307.08,226.00 L307.25,225.00 L307.43,224.00 L307.62,223.00 L307.83,222.00 L308.06,221.00 L308.29,220.00 L308.54,219.00 L308.79,218.00 L309.05,217.00 L309.31,216.00 L309.57,215.00 L309.83,214.00 L310.10,213.00 L310.35,212.00 L310.61,211.00 L310.85,210.00 L311.09,209.00 L311.33,208.00 L311.57,207.00 L311.82,206.00 L312.06,205.00 L312.30,204.00 L312.55,203.00 L312.79,202.00 L313.03,201.00 L313.27,200.00 L313.51,199.00 L313.75,198.00 L313.98,197.00 L314.22,196.00 L314.45,195.00 L314.68,194.00 L314.91,193.00 L315.14,192.00 L315.36,191.00 L315.59,190.00 L315.81,189.00 L316.04,188.00 L316.26,187.00 L316.48,186.00 L316.70,185.00 L316.92,184.00 L317.14,183.00 L317.36,182.00 L317.58,181.00 L317.80,180.00 L318.02,179.00 L318.23,178.00 L318.45,177.00 L318.66,176.00 L318.87,175.00 L319.08,174.00 L319.29,173.00 L319.50,172.00 L319.71,171.00 L319.92,170.00 L320.13,169.00 L320.35,168.00 L320.56,167.00 L320.78,166.00 L321.00,165.00 L321.23,164.00 L321.46,163.00 L321.70,162.00 L321.94,161.00 L322.18,160.00 L322.43,159.00 L322.67,158.00 L322.92,157.00 L323.16,156.00 L323.39,155.00 L323.62,154.00 L323.84,153.00 L324.06,152.00 L324.26,151.00 L324.45,150.00 L324.63,149.00 L324.80,148.00 L324.97,147.00 L325.13,146.00 L325.29,145.00 L325.45,144.00 L325.60,143.00 L325.74,142.00 L325.89,141.00 L326.03,140.00 L326.18,139.00 L326.32,138.00 L326.46,137.00 L326.60,136.00 L326.75,135.00 L326.90,134.00 L327.04,133.00 L327.18,132.00 L327.32,131.00 L327.46,130.00 L327.60,129.00 L327.74,128.00 L327.88,127.00 L328.02,126.00 L328.15,125.00 L328.29,124.00 L328.43,123.00 L328.57,122.00 L328.71,121.00 L328.85,120.00 L328.99,119.00 L329.14,118.00 L329.29,117.00 L329.44,116.00 L329.59,115.00 L329.74,114.00 L329.89,113.00 L330.04,112.00 L330.18,111.00 L330.33,110.00 L330.47,109.00 L330.61,108.00 L330.74,107.00 L330.87,106.00 L331.00,105.00 L331.12,104.00 L331.24,103.00 L331.35,102.00 L331.46,101.00 L331.57,100.00 L331.68,99.00 L331.78,98.00 L331.89,97.00 L331.99,96.00 L332.09,95.00 L332.19,94.00 L332.29,93.00 L332.40,92.00 L332.50,91.00 L332.60,90.00 L332.70,89.00 L332.80,88.00 L332.91,87.00 L333.01,86.00 L333.11,85.00 L333.20,84.00 L333.30,83.00 L333.40,82.00 L333.50,81.00 L333.60,80.00 L333.70,79.00 L333.79,78.00 L333.89,77.00 L333.99,76.00 L334.08,75.00 L334.18,74.00 L334.28,73.00 L334.37,72.00 L334.47,71.00 L334.57,70.00 L334.66,69.00 L334.76,68.00 L334.86,67.00 L334.96,66.00 L335.05,65.00 L335.15,64.00 L335.25,63.00 L335.35,62.00 L335.45,61.00 L335.55,60.00 L335.65,59.00 L335.75,58.00 L335.85,57.00 L335.95,56.00 L336.06,55.00 L336.16,54.00 L336.26,53.00 L336.36,52.00 L336.46,51.00 L336.57,50.00 L336.67,49.00 L336.77,48.00 L336.88,47.00 L336.98,46.00 L337.08,45.00 L337.19,44.00 L337.29,43.00 L337.39,42.00 L337.50,41.00 L337.60,40.00 L337.65,39.55Z" fill="#FD766A" stroke="#2E2E2E" stroke-width="1.3" stroke-linejoin="round"/>
<path d="M420.20,39.55 L420.26,40.00 L420.40,41.00 L420.54,42.00 L420.68,43.00 L420.81,44.00 L420.95,45.00 L421.09,46.00 L421.23,47.00 L421.36,48.00 L421.50,49.00 L421.64,50.00 L421.78,51.00 L421.91,52.00 L422.05,53.00 L422.19,54.00 L422.32,55.00 L422.46,56.00 L422.59,57.00 L422.73,58.00 L422.86,59.00 L423.00,60.00 L423.13,61.00 L423.27,62.00 L423.40,63.00 L423.53,64.00 L423.66,65.00 L423.78,66.00 L423.91,67.00 L424.04,68.00 L424.16,69.00 L424.29,70.00 L424.41,71.00 L424.54,72.00 L424.66,73.00 L424.79,74.00 L424.91,75.00 L425.04,76.00 L425.17,77.00 L425.30,78.00 L425.43,79.00 L425.56,80.00 L425.69,81.00 L425.83,82.00 L425.97,83.00 L426.11,84.00 L426.25,85.00 L426.39,86.00 L426.54,87.00 L426.69,88.00 L426.84,89.00 L427.00,90.00 L427.16,91.00 L427.33,92.00 L427.49,93.00 L427.67,94.00 L427.84,95.00 L428.03,96.00 L428.21,97.00 L428.40,98.00 L428.59,99.00 L428.78,100.00 L428.98,101.00 L429.18,102.00 L429.39,103.00 L429.59,104.00 L429.80,105.00 L430.01,106.00 L430.24,107.00 L430.46,108.00 L430.70,109.00 L430.94,110.00 L431.18,111.00 L431.43,112.00 L431.67,113.00 L431.92,114.00 L432.17,115.00 L432.42,116.00 L432.67,117.00 L432.92,118.00 L433.16,119.00 L433.40,120.00 L433.64,121.00 L433.88,122.00 L434.12,123.00 L434.36,124.00 L434.60,125.00 L434.84,126.00 L435.07,127.00 L435.31,128.00 L435.55,129.00 L435.78,130.00 L436.01,131.00 L436.24,132.00 L436.46,133.00 L436.68,134.00 L436.90,135.00 L437.11,136.00 L437.31,137.00 L437.51,138.00 L437.70,139.00 L437.89,140.00 L438.08,141.00 L438.26,142.00 L438.45,143.00 L438.63,144.00 L438.82,145.00 L439.02,146.00 L439.21,147.00 L439.42,148.00 L439.63,149.00 L439.85,150.00 L440.08,151.00 L440.33,152.00 L440.60,153.00 L440.87,154.00 L441.15,155.00 L441.44,156.00 L441.73,157.00 L442.02,158.00 L442.30,159.00 L442.58,160.00 L442.86,161.00 L443.12,162.00 L443.36,163.00 L443.59,164.00 L443.80,165.00 L444.00,166.00 L444.20,167.00 L444.39,168.00 L444.59,169.00 L444.78,170.00 L444.96,171.00 L445.14,172.00 L445.31,173.00 L445.47,174.00 L445.62,175.00 L445.76,176.00 L445.89,177.00 L446.01,178.00 L446.11,179.00 L446.20,180.00 L446.28,181.00 L446.36,182.00 L446.44,183.00 L446.51,184.00 L446.59,185.00 L446.65,186.00 L446.72,187.00 L446.78,188.00 L446.83,189.00 L446.88,190.00 L446.92,191.00 L446.96,192.00 L446.98,193.00 L446.99,194.00 L447.00,195.00 L447.00,196.00 L446.99,197.00 L446.97,198.00 L446.94,199.00 L446.92,200.00 L446.88,201.00 L446.85,202.00 L446.81,203.00 L446.76,204.00 L446.72,205.00 L446.68,206.00 L446.63,207.00 L446.59,208.00 L446.54,209.00 L446.50,210.00 L446.46,211.00 L446.41,212.00 L446.36,213.00 L446.30,214.00 L446.24,215.00 L446.19,216.00 L446.13,217.00 L446.07,218.00 L446.01,219.00 L445.95,220.00 L445.89,221.00 L445.84,222.00 L445.79,223.00 L445.74,224.00 L445.70,225.00 L445.66,226.00 L445.62,227.00 L445.58,228.00 L445.54,229.00 L445.50,230.00 L445.46,231.00 L445.42,232.00 L445.39,233.00 L445.35,234.00 L445.32,235.00 L445.30,236.00 L445.28,237.00 L445.26,238.00 L445.25,239.00 L445.25,240.00 L445.25,241.00 L445.26,242.00 L445.28,243.00 L445.30,244.00 L445.33,245.00 L445.35,246.00 L445.39,247.00 L445.42,248.00 L445.46,249.00 L445.49,250.00 L445.53,251.00 L445.56,252.00 L445.59,253.00 L445.62,254.00 L445.65,255.00 L445.68,256.00 L445.70,257.00 L445.73,258.00 L445.76,259.00 L445.80,260.00 L445.83,261.00 L445.86,262.00 L445.89,263.00 L445.91,264.00 L445.94,265.00 L445.96,266.00 L445.98,267.00 L445.99,268.00 L446.00,269.00 L446.00,270.00 L445.99,271.00 L445.95,272.00 L445.89,273.00 L445.82,274.00 L445.73,275.00 L445.64,276.00 L445.55,277.00 L445.44,278.00 L445.32,279.00 L445.16,280.00 L445.00,281.00 L444.81,282.00 L444.62,283.00 L444.41,284.00 L444.20,285.00 L443.97,286.00 L443.71,287.00 L443.42,288.00 L443.12,289.00 L442.81,290.00 L442.50,291.00 L442.20,292.00 L441.90,293.00 L441.60,294.00 L441.29,295.00 L440.98,296.00 L440.67,297.00 L440.37,298.00 L440.08,299.00 L439.80,300.00 L439.54,301.00 L439.28,302.00 L439.03,303.00 L438.79,304.00 L438.55,305.00 L438.32,306.00 L438.09,307.00 L437.86,308.00 L437.63,309.00 L437.40,310.00 L437.17,311.00 L436.94,312.00 L436.71,313.00 L436.48,314.00 L436.26,315.00 L436.04,316.00 L435.84,317.00 L435.65,318.00 L435.47,319.00 L435.29,320.00 L435.12,321.00 L434.96,322.00 L434.80,323.00 L434.64,324.00 L434.50,325.00 L434.36,326.00 L434.23,327.00 L434.20,327.25 L401.00,327.25 L400.97,327.00 L400.84,326.00 L400.70,325.00 L400.56,324.00 L400.40,323.00 L400.24,322.00 L400.08,321.00 L399.91,320.00 L399.73,319.00 L399.55,318.00 L399.36,317.00 L399.16,316.00 L398.94,315.00 L398.72,314.00 L398.49,313.00 L398.26,312.00 L398.03,311.00 L397.80,310.00 L397.57,309.00 L397.34,308.00 L397.11,307.00 L396.88,306.00 L396.65,305.00 L396.41,304.00 L396.17,303.00 L395.92,302.00 L395.66,301.00 L395.40,300.00 L395.12,299.00 L394.83,298.00 L394.53,297.00 L394.22,296.00 L393.91,295.00 L393.60,294.00 L393.30,293.00 L393.00,292.00 L392.70,291.00 L392.39,290.00 L392.08,289.00 L391.78,288.00 L391.49,287.00 L391.23,286.00 L391.00,285.00 L390.79,284.00 L390.58,283.00 L390.39,282.00 L390.20,281.00 L390.04,280.00 L389.88,279.00 L389.76,278.00 L389.65,277.00 L389.56,276.00 L389.47,275.00 L389.38,274.00 L389.31,273.00 L389.25,272.00 L389.21,271.00 L389.20,270.00 L389.20,269.00 L389.21,268.00 L389.22,267.00 L389.24,266.00 L389.26,265.00 L389.29,264.00 L389.31,263.00 L389.34,262.00 L389.37,261.00 L389.40,260.00 L389.44,259.00 L389.47,258.00 L389.50,257.00 L389.52,256.00 L389.55,255.00 L389.58,254.00 L389.61,253.00 L389.64,252.00 L389.67,251.00 L389.71,250.00 L389.74,249.00 L389.78,248.00 L389.81,247.00 L389.85,246.00 L389.87,245.00 L389.90,244.00 L389.92,243.00 L389.94,242.00 L389.95,241.00 L389.95,240.00 L389.95,239.00 L389.94,238.00 L389.92,237.00 L389.90,236.00 L389.88,235.00 L389.85,234.00 L389.81,233.00 L389.78,232.00 L389.74,231.00 L389.70,230.00 L389.66,229.00 L389.62,228.00 L389.58,227.00 L389.54,226.00 L389.50,225.00 L389.46,224.00 L389.41,223.00 L389.36,222.00 L389.31,221.00 L389.25,220.00 L389.19,219.00 L389.13,218.00 L389.07,217.00 L389.01,216.00 L388.96,215.00 L388.90,214.00 L388.84,213.00 L388.79,212.00 L388.74,211.00 L388.70,210.00 L388.66,209.00 L388.61,208.00 L388.57,207.00 L388.52,206.00 L388.48,205.00 L388.44,204.00 L388.39,203.00 L388.35,202.00 L388.32,201.00 L388.28,200.00 L388.26,199.00 L388.23,198.00 L388.21,197.00 L388.20,196.00 L388.20,195.00 L388.21,194.00 L388.22,193.00 L388.24,192.00 L388.28,191.00 L388.32,190.00 L388.37,189.00 L388.42,188.00 L388.48,187.00 L388.55,186.00 L388.61,185.00 L388.69,184.00 L388.76,183.00 L388.84,182.00 L388.92,181.00 L389.00,180.00 L389.09,179.00 L389.19,178.00 L389.31,177.00 L389.44,176.00 L389.58,175.00 L389.73,174.00 L389.89,173.00 L390.06,172.00 L390.24,171.00 L390.42,170.00 L390.61,169.00 L390.81,168.00 L391.00,167.00 L391.20,166.00 L391.40,165.00 L391.61,164.00 L391.84,163.00 L392.08,162.00 L392.34,161.00 L392.62,160.00 L392.90,159.00 L393.18,158.00 L393.47,157.00 L393.76,156.00 L394.05,155.00 L394.33,154.00 L394.60,153.00 L394.87,152.00 L395.12,151.00 L395.35,150.00 L395.57,149.00 L395.78,148.00 L395.99,147.00 L396.18,146.00 L396.38,145.00 L396.57,144.00 L396.75,143.00 L396.94,142.00 L397.12,141.00 L397.31,140.00 L397.50,139.00 L397.69,138.00 L397.89,137.00 L398.09,136.00 L398.30,135.00 L398.52,134.00 L398.74,133.00 L398.96,132.00 L399.19,131.00 L399.42,130.00 L399.65,129.00 L399.89,128.00 L400.13,127.00 L400.36,126.00 L400.60,125.00 L400.84,124.00 L401.08,123.00 L401.32,122.00 L401.56,121.00 L401.80,120.00 L402.04,119.00 L402.28,118.00 L402.53,117.00 L402.78,116.00 L403.03,115.00 L403.28,114.00 L403.53,113.00 L403.77,112.00 L404.02,111.00 L404.26,110.00 L404.50,109.00 L404.74,108.00 L404.96,107.00 L405.19,106.00 L405.40,105.00 L405.61,104.00 L405.81,103.00 L406.02,102.00 L406.22,101.00 L406.42,100.00 L406.61,99.00 L406.80,98.00 L406.99,97.00 L407.17,96.00 L407.36,95.00 L407.53,94.00 L407.71,93.00 L407.87,92.00 L408.04,91.00 L408.20,90.00 L408.36,89.00 L408.51,88.00 L408.66,87.00 L408.81,86.00 L408.95,85.00 L409.09,84.00 L409.23,83.00 L409.37,82.00 L409.51,81.00 L409.64,80.00 L409.77,79.00 L409.90,78.00 L410.03,77.00 L410.16,76.00 L410.29,75.00 L410.41,74.00 L410.54,73.00 L410.66,72.00 L410.79,71.00 L410.91,70.00 L411.04,69.00 L411.16,68.00 L411.29,67.00 L411.42,66.00 L411.54,65.00 L411.67,64.00 L411.80,63.00 L411.93,62.00 L412.07,61.00 L412.20,60.00 L412.34,59.00 L412.47,58.00 L412.61,57.00 L412.74,56.00 L412.88,55.00 L413.01,54.00 L413.15,53.00 L413.29,52.00 L413.42,51.00 L413.56,50.00 L413.70,49.00 L413.84,48.00 L413.97,47.00 L414.11,46.00 L414.25,45.00 L414.39,44.00 L414.52,43.00 L414.66,42.00 L414.80,41.00 L414.94,40.00 L415.00,39.55Z" fill="#00BA22" stroke="#2E2E2E" stroke-width="1.3" stroke-linejoin="round"/>
<path d="M498.35,39.55 L498.42,40.00 L498.57,41.00 L498.73,42.00 L498.89,43.00 L499.04,44.00 L499.20,45.00 L499.35,46.00 L499.51,47.00 L499.66,48.00 L499.82,49.00 L499.98,50.00 L500.13,51.00 L500.29,52.00 L500.45,53.00 L500.60,54.00 L500.76,55.00 L500.92,56.00 L501.08,57.00 L501.23,58.00 L501.39,59.00 L501.55,60.00 L501.71,61.00 L501.87,62.00 L502.02,63.00 L502.18,64.00 L502.34,65.00 L502.49,66.00 L502.65,67.00 L502.81,68.00 L502.96,69.00 L503.12,70.00 L503.28,71.00 L503.44,72.00 L503.59,73.00 L503.75,74.00 L503.91,75.00 L504.07,76.00 L504.23,77.00 L504.39,78.00 L504.55,79.00 L504.71,80.00 L504.87,81.00 L505.03,82.00 L505.19,83.00 L505.35,84.00 L505.52,85.00 L505.68,86.00 L505.85,87.00 L506.01,88.00 L506.18,89.00 L506.35,90.00 L506.52,91.00 L506.69,92.00 L506.85,93.00 L507.02,94.00 L507.19,95.00 L507.35,96.00 L507.52,97.00 L507.70,98.00 L507.87,99.00 L508.05,100.00 L508.23,101.00 L508.41,102.00 L508.60,103.00 L508.80,104.00 L509.00,105.00 L509.21,106.00 L509.43,107.00 L509.65,108.00 L509.89,109.00 L510.12,110.00 L510.37,111.00 L510.62,112.00 L510.87,113.00 L511.12,114.00 L511.37,115.00 L511.62,116.00 L511.87,117.00 L512.12,118.00 L512.36,119.00 L512.60,120.00 L512.83,121.00 L513.07,122.00 L513.30,123.00 L513.53,124.00 L513.76,125.00 L514.00,126.00 L514.23,127.00 L514.46,128.00 L514.68,129.00 L514.91,130.00 L515.14,131.00 L515.37,132.00 L515.60,133.00 L515.82,134.00 L516.05,135.00 L516.28,136.00 L516.50,137.00 L516.72,138.00 L516.94,139.00 L517.16,140.00 L517.38,141.00 L517.60,142.00 L517.82,143.00 L518.04,144.00 L518.26,145.00 L518.49,146.00 L518.71,147.00 L518.94,148.00 L519.17,149.00 L519.40,150.00 L519.64,151.00 L519.89,152.00 L520.14,153.00 L520.41,154.00 L520.67,155.00 L520.94,156.00 L521.20,157.00 L521.47,158.00 L521.73,159.00 L521.98,160.00 L522.23,161.00 L522.46,162.00 L522.69,163.00 L522.90,164.00 L523.10,165.00 L523.29,166.00 L523.48,167.00 L523.67,168.00 L523.86,169.00 L524.05,170.00 L524.23,171.00 L524.41,172.00 L524.58,173.00 L524.73,174.00 L524.88,175.00 L525.02,176.00 L525.14,177.00 L525.24,178.00 L525.33,179.00 L525.40,180.00 L525.46,181.00 L525.52,182.00 L525.57,183.00 L525.62,184.00 L525.67,185.00 L525.72,186.00 L525.77,187.00 L525.81,188.00 L525.84,189.00 L525.87,190.00 L525.90,191.00 L525.92,192.00 L525.94,193.00 L525.95,194.00 L525.95,195.00 L525.94,196.00 L525.92,197.00 L525.89,198.00 L525.84,199.00 L525.79,200.00 L525.72,201.00 L525.65,202.00 L525.57,203.00 L525.49,204.00 L525.41,205.00 L525.32,206.00 L525.24,207.00 L525.16,208.00 L525.08,209.00 L525.00,210.00 L524.92,211.00 L524.84,212.00 L524.76,213.00 L524.67,214.00 L524.57,215.00 L524.48,216.00 L524.38,217.00 L524.29,218.00 L524.19,219.00 L524.10,220.00 L524.01,221.00 L523.93,222.00 L523.85,223.00 L523.77,224.00 L523.70,225.00 L523.63,226.00 L523.57,227.00 L523.50,228.00 L523.44,229.00 L523.38,230.00 L523.32,231.00 L523.26,232.00 L523.20,233.00 L523.15,234.00 L523.10,235.00 L523.05,236.00 L523.01,237.00 L522.97,238.00 L522.93,239.00 L522.90,240.00 L522.87,241.00 L522.84,242.00 L522.81,243.00 L522.78,244.00 L522.76,245.00 L522.73,246.00 L522.71,247.00 L522.68,248.00 L522.66,249.00 L522.65,250.00 L522.63,251.00 L522.62,252.00 L522.61,253.00 L522.60,254.00 L522.60,255.00 L522.60,256.00 L522.60,257.00 L522.60,258.00 L522.60,259.00 L522.60,260.00 L522.60,261.00 L522.60,262.00 L522.60,263.00 L522.60,264.00 L522.60,265.00 L522.60,266.00 L522.60,267.00 L522.60,268.00 L522.60,269.00 L522.60,270.00 L522.59,271.00 L522.57,272.00 L522.53,273.00 L522.48,274.00 L522.43,275.00 L522.37,276.00 L522.30,277.00 L522.22,278.00 L522.10,279.00 L521.96,280.00 L521.80,281.00 L521.61,282.00 L521.42,283.00 L521.21,284.00 L521.00,285.00 L520.76,286.00 L520.48,287.00 L520.16,288.00 L519.83,289.00 L519.50,290.00 L519.19,291.00 L518.90,292.00 L518.64,293.00 L518.39,294.00 L518.15,295.00 L517.92,296.00 L517.69,297.00 L517.46,298.00 L517.23,299.00 L517.00,300.00 L516.77,301.00 L516.53,302.00 L516.29,303.00 L516.06,304.00 L515.83,305.00 L515.60,306.00 L515.37,307.00 L515.16,308.00 L514.95,309.00 L514.75,310.00 L514.56,311.00 L514.38,312.00 L514.21,313.00 L514.04,314.00 L513.88,315.00 L513.72,316.00 L513.56,317.00 L513.40,318.00 L513.24,319.00 L513.09,320.00 L512.94,321.00 L512.79,322.00 L512.64,323.00 L512.50,324.00 L512.36,325.00 L512.22,326.00 L512.08,327.00 L512.05,327.25 L479.95,327.25 L479.92,327.00 L479.78,326.00 L479.64,325.00 L479.50,324.00 L479.36,323.00 L479.21,322.00 L479.06,321.00 L478.91,320.00 L478.76,319.00 L478.60,318.00 L478.44,317.00 L478.28,316.00 L478.12,315.00 L477.96,314.00 L477.79,313.00 L477.62,312.00 L477.44,311.00 L477.25,310.00 L477.05,309.00 L476.84,308.00 L476.63,307.00 L476.40,306.00 L476.17,305.00 L475.94,304.00 L475.71,303.00 L475.47,302.00 L475.23,301.00 L475.00,300.00 L474.77,299.00 L474.54,298.00 L474.31,297.00 L474.08,296.00 L473.85,295.00 L473.61,294.00 L473.36,293.00 L473.10,292.00 L472.81,291.00 L472.50,290.00 L472.17,289.00 L471.84,288.00 L471.52,287.00 L471.24,286.00 L471.00,285.00 L470.79,284.00 L470.58,283.00 L470.39,282.00 L470.20,281.00 L470.04,280.00 L469.90,279.00 L469.78,278.00 L469.70,277.00 L469.63,276.00 L469.57,275.00 L469.52,274.00 L469.47,273.00 L469.43,272.00 L469.41,271.00 L469.40,270.00 L469.40,269.00 L469.40,268.00 L469.40,267.00 L469.40,266.00 L469.40,265.00 L469.40,264.00 L469.40,263.00 L469.40,262.00 L469.40,261.00 L469.40,260.00 L469.40,259.00 L469.40,258.00 L469.40,257.00 L469.40,256.00 L469.40,255.00 L469.40,254.00 L469.39,253.00 L469.38,252.00 L469.37,251.00 L469.35,250.00 L469.34,249.00 L469.32,248.00 L469.29,247.00 L469.27,246.00 L469.24,245.00 L469.22,244.00 L469.19,243.00 L469.16,242.00 L469.13,241.00 L469.10,240.00 L469.07,239.00 L469.03,238.00 L468.99,237.00 L468.95,236.00 L468.90,235.00 L468.85,234.00 L468.80,233.00 L468.74,232.00 L468.68,231.00 L468.62,230.00 L468.56,229.00 L468.50,228.00 L468.43,227.00 L468.37,226.00 L468.30,225.00 L468.23,224.00 L468.15,223.00 L468.07,222.00 L467.99,221.00 L467.90,220.00 L467.81,219.00 L467.71,218.00 L467.62,217.00 L467.52,216.00 L467.43,215.00 L467.33,214.00 L467.24,213.00 L467.16,212.00 L467.08,211.00 L467.00,210.00 L466.92,209.00 L466.84,208.00 L466.76,207.00 L466.68,206.00 L466.59,205.00 L466.51,204.00 L466.43,203.00 L466.35,202.00 L466.28,201.00 L466.21,200.00 L466.16,199.00 L466.11,198.00 L466.08,197.00 L466.06,196.00 L466.05,195.00 L466.05,194.00 L466.06,193.00 L466.08,192.00 L466.10,191.00 L466.13,190.00 L466.16,189.00 L466.19,188.00 L466.23,187.00 L466.28,186.00 L466.33,185.00 L466.38,184.00 L466.43,183.00 L466.48,182.00 L466.54,181.00 L466.60,180.00 L466.67,179.00 L466.76,178.00 L466.86,177.00 L466.98,176.00 L467.12,175.00 L467.27,174.00 L467.42,173.00 L467.59,172.00 L467.77,171.00 L467.95,170.00 L468.14,169.00 L468.33,168.00 L468.52,167.00 L468.71,166.00 L468.90,165.00 L469.10,164.00 L469.31,163.00 L469.54,162.00 L469.77,161.00 L470.02,160.00 L470.27,159.00 L470.53,158.00 L470.80,157.00 L471.06,156.00 L471.33,155.00 L471.59,154.00 L471.86,153.00 L472.11,152.00 L472.36,151.00 L472.60,150.00 L472.83,149.00 L473.06,148.00 L473.29,147.00 L473.51,146.00 L473.74,145.00 L473.96,144.00 L474.18,143.00 L474.40,142.00 L474.62,141.00 L474.84,140.00 L475.06,139.00 L475.28,138.00 L475.50,137.00 L475.72,136.00 L475.95,135.00 L476.18,134.00 L476.40,133.00 L476.63,132.00 L476.86,131.00 L477.09,130.00 L477.32,129.00 L477.54,128.00 L477.77,127.00 L478.00,126.00 L478.24,125.00 L478.47,124.00 L478.70,123.00 L478.93,122.00 L479.17,121.00 L479.40,120.00 L479.64,119.00 L479.88,118.00 L480.13,117.00 L480.38,116.00 L480.63,115.00 L480.88,114.00 L481.13,113.00 L481.38,112.00 L481.63,111.00 L481.88,110.00 L482.11,109.00 L482.35,108.00 L482.57,107.00 L482.79,106.00 L483.00,105.00 L483.20,104.00 L483.40,103.00 L483.59,102.00 L483.77,101.00 L483.95,100.00 L484.13,99.00 L484.30,98.00 L484.48,97.00 L484.65,96.00 L484.81,95.00 L484.98,94.00 L485.15,93.00 L485.31,92.00 L485.48,91.00 L485.65,90.00 L485.82,89.00 L485.99,88.00 L486.15,87.00 L486.32,86.00 L486.48,85.00 L486.65,84.00 L486.81,83.00 L486.97,82.00 L487.13,81.00 L487.29,80.00 L487.45,79.00 L487.61,78.00 L487.77,77.00 L487.93,76.00 L488.09,75.00 L488.25,74.00 L488.41,73.00 L488.56,72.00 L488.72,71.00 L488.88,70.00 L489.04,69.00 L489.19,68.00 L489.35,67.00 L489.51,66.00 L489.66,65.00 L489.82,64.00 L489.98,63.00 L490.13,62.00 L490.29,61.00 L490.45,60.00 L490.61,59.00 L490.77,58.00 L490.92,57.00 L491.08,56.00 L491.24,55.00 L491.40,54.00 L491.55,53.00 L491.71,52.00 L491.87,51.00 L492.02,50.00 L492.18,49.00 L492.34,48.00 L492.49,47.00 L492.65,46.00 L492.80,45.00 L492.96,44.00 L493.11,43.00 L493.27,42.00 L493.43,41.00 L493.58,40.00 L493.65,39.55Z" fill="#3399FF" stroke="#2E2E2E" stroke-width="1.3" stroke-linejoin="round"/>
<path d="M73.65,241.70H89.35M81.50,241.70V245.80M73.65,245.80H89.35" stroke="#000" stroke-width="1.3" fill="none"/><circle cx="81.50" cy="243.75" r="2.4" fill="#000"/>
<path d="M152.05,222.50H167.75M159.90,222.50V227.50M152.05,227.50H167.75" stroke="#000" stroke-width="1.3" fill="none"/><circle cx="159.90" cy="225.00" r="2.4" fill="#000"/>
<path d="M230.45,221.80H246.15M238.30,221.80V226.20M230.45,226.20H246.15" stroke="#000" stroke-width="1.3" fill="none"/><circle cx="238.30" cy="224.00" r="2.4" fill="#000"/>
<path d="M331.35,232.90H347.05M339.20,232.90V238.10M331.35,238.10H347.05" stroke="#000" stroke-width="1.3" fill="none"/><circle cx="339.20" cy="235.50" r="2.4" fill="#000"/>
<path d="M409.75,213.20H425.45M417.60,213.20V218.30M409.75,218.30H425.45" stroke="#000" stroke-width="1.3" fill="none"/><circle cx="417.60" cy="215.75" r="2.4" fill="#000"/>
<path d="M488.15,210.50H503.85M496.00,210.50V216.00M488.15,216.00H503.85" stroke="#000" stroke-width="1.3" fill="none"/><circle cx="496.00" cy="213.25" r="2.4" fill="#000"/>
<path d="M34.3,25.2V341.6H285.3" stroke="#000" stroke-width="1.07" fill="none" stroke-linecap="butt"/>
<path d="M292.3,341.6H543.3" stroke="#000" stroke-width="1.07" fill="none"/>
<path d="M31.349999999999998,279.30H34.3" stroke="#333" stroke-width="1.07"/>
<text x="28.3" y="283.60" text-anchor="end" class="ax">2</text>
<path d="M31.349999999999998,183.40H34.3" stroke="#333" stroke-width="1.07"/>
<text x="28.3" y="187.70" text-anchor="end" class="ax">4</text>
<path d="M31.349999999999998,87.50H34.3" stroke="#333" stroke-width="1.07"/>
<text x="28.3" y="91.80" text-anchor="end" class="ax">6</text>
<path d="M81.50,341.6V344.55" stroke="#333" stroke-width="1.07"/>
<text x="81.50" y="355.7" text-anchor="middle" class="ax">Asymmetrical</text>
<path d="M159.90,341.6V344.55" stroke="#333" stroke-width="1.07"/>
<text x="159.90" y="355.7" text-anchor="middle" class="ax">Original</text>
<path d="M238.30,341.6V344.55" stroke="#333" stroke-width="1.07"/>
<text x="238.30" y="355.7" text-anchor="middle" class="ax">Symmetrical</text>
<path d="M339.20,341.6V344.55" stroke="#333" stroke-width="1.07"/>
<text x="339.20" y="355.7" text-anchor="middle" class="ax">Asymmetrical</text>
<path d="M417.60,341.6V344.55" stroke="#333" stroke-width="1.07"/>
<text x="417.60" y="355.7" text-anchor="middle" class="ax">Original</text>
<path d="M496.00,341.6V344.55" stroke="#333" stroke-width="1.07"/>
<text x="496.00" y="355.7" text-anchor="middle" class="ax">Symmetrical</text>
<rect x="34.60" y="5.70" width="250.60" height="18.40" fill="#fff" stroke="#000" stroke-width="1.3"/>
<text x="159.80" y="18.75" text-anchor="middle" class="st">Females rating Male Faces</text>
<rect x="292.60" y="5.70" width="250.60" height="18.40" fill="#fff" stroke="#000" stroke-width="1.3"/>
<text x="417.80" y="18.75" text-anchor="middle" class="st">Males rating Female Faces</text>

<text x="288.9" y="370.0" text-anchor="middle" class="ti">Version of Face</text>
<text transform="translate(16.6,183.3) rotate(-90)" x="0" y="0" text-anchor="middle" class="ti">Attractiveness Ratings</text>
</svg>
</body></html>
